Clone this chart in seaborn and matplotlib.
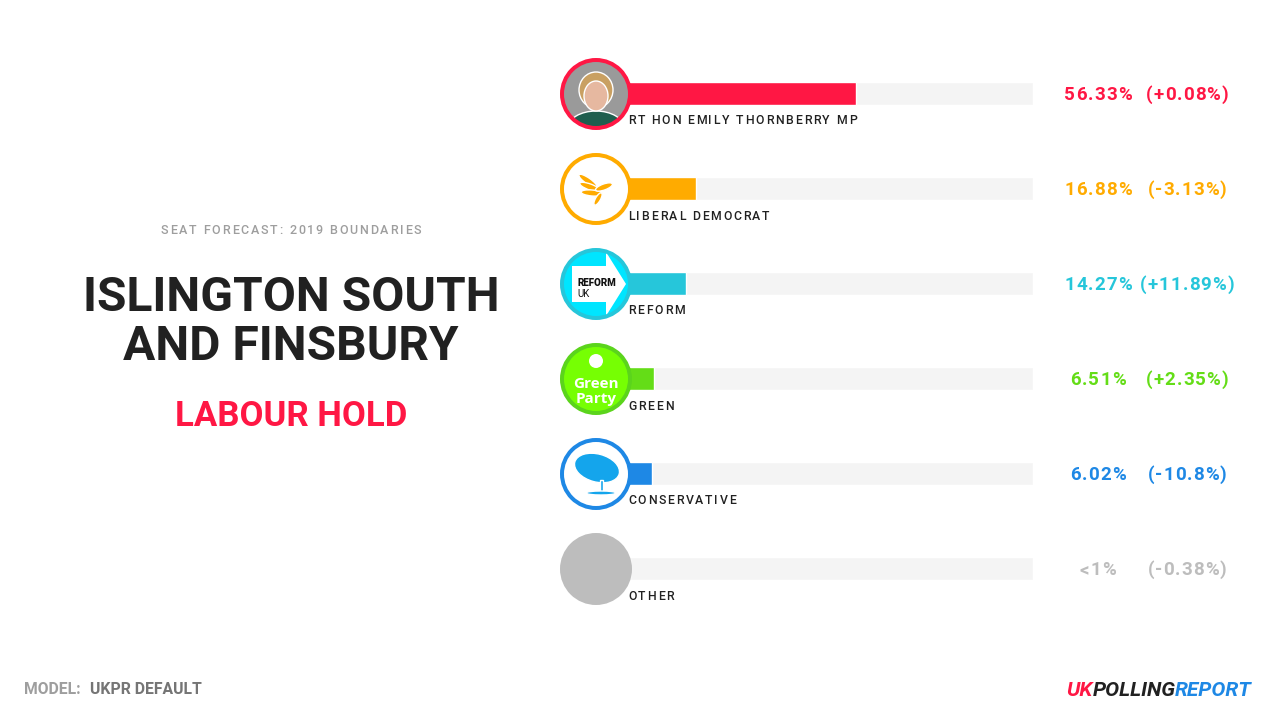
import numpy as np
import pandas as pd
import matplotlib
matplotlib.use('Agg')
import matplotlib.pyplot as plt
import seaborn as sns
from matplotlib.patches import Circle, Ellipse, Polygon, Rectangle
from matplotlib.font_manager import FontProperties
from matplotlib.textpath import TextToPath

# data
parties = ['Labour', 'Liberal Democrat', 'Reform', 'Green', 'Conservative', 'Other']
labels = ['RT HON EMILY THORNBERRY MP', 'LIBERAL DEMOCRAT', 'REFORM', 'GREEN',
          'CONSERVATIVE', 'OTHER']
vote_share = [56.33, 16.88, 14.27, 6.51, 6.02, 0.5]
share_text = ['56.33%', '16.88%', '14.27%', '6.51%', '6.02%', '<1%']
change_text = ['(+0.08%)', '(-3.13%)', '(+11.89%)', '(+2.35%)', '(-10.8%)', '(-0.38%)']
colors = ['#FF1744', '#FFAB00', '#26C6DA', '#64DD17', '#1E88E5', '#BDBDBD']

sns.set_theme(style='white')
plt.rcParams['font.family'] = ['Roboto', 'DejaVu Sans']

DPI = 100
fig = plt.figure(figsize=(12.8, 7.2), dpi=DPI)
fig.patch.set_facecolor('white')

# bar axes: rows 95px apart, first row centred at y=94
row0, step = 93.5, 95
top = row0 - step / 2
bottom = row0 + step * 5 + step / 2
axb = fig.add_axes([628 / 1280, (720 - bottom) / 720, (1033 - 628) / 1280, (bottom - top) / 720])
df = pd.DataFrame({'party': parties, 'share': vote_share, 'track': [100] * len(parties)})
sns.barplot(data=df, x='track', y='party', color='#F4F4F4', width=0.25,
            saturation=1, ax=axb)
sns.barplot(data=df, x='share', y='party', hue='party', palette=colors,
            width=0.25, saturation=1, legend=False, ax=axb)
axb.set_xlim(0, 100)
axb.set_ylim(5.5, -0.5)
axb.axis('off')

# overlay in pixel units
ax = fig.add_axes([0, 0, 1, 1])
ax.set_xlim(0, 1280)
ax.set_ylim(720, 0)
ax.axis('off')
ax.patch.set_alpha(0)

ttp = TextToPath()


def text_w(s, prop):
    return ttp.get_text_width_height_descent(s, prop, ismath=False)[0] * DPI / 72


def spaced(x, y, s, size, spacing, color, weight='bold', ha='left', style='normal'):
    prop = FontProperties(family='Roboto', weight=weight, size=size, style=style)
    widths = [text_w(c, prop) for c in s]
    total = sum(widths) + spacing * (len(s) - 1)
    if ha == 'center':
        x = x - total / 2
    elif ha == 'right':
        x = x - total
    for c, w in zip(s, widths):
        ax.text(x, y, c, fontproperties=prop, color=color, ha='left', va='center')
        x += w + spacing


# left block
spaced(291, 230, 'SEAT FORECAST: 2019 BOUNDARIES', 9, 1.75, '#9E9E9E', weight='medium', ha='center')
ax.text(291, 298, 'ISLINGTON SOUTH', fontsize=34.6, fontweight='bold', color='#212121',
        ha='center', va='center')
ax.text(291, 347, 'AND FINSBURY', fontsize=34.6, fontweight='bold', color='#212121',
        ha='center', va='center')
ax.text(291, 416, 'LABOUR HOLD', fontsize=25, fontweight='bold', color='#FF1744',
        ha='center', va='center')

# rows
cx = 596
for i, (lab, col) in enumerate(zip(labels, colors)):
    cy = row0 + i * step
    spaced(628, cy + 27.5, lab, 8.8, 1.75, '#212121', weight='medium')
    spaced(1098, cy + 1.5, share_text[i], 13.5, 1.0, col, ha='center')
    spaced(1187, cy + 1.5, change_text[i], 13.5, 1.0, col, ha='center')

# party roundels
lw = 4 * 72 / DPI
cy0 = 94
# Labour: portrait placeholder
cy = cy0
inner = Circle((cx, cy), 33, facecolor='#9A9A9A', edgecolor='none', zorder=3)
ax.add_patch(inner)
for p in [Ellipse((cx, cy - 4), 34, 36, facecolor='#C9A062', zorder=4),
          Ellipse((cx, cy + 34), 56, 34, facecolor='#1F5E4E', zorder=4),
          Ellipse((cx, cy + 2), 24, 30, facecolor='#E6B8A0', zorder=5)]:
    ax.add_patch(p)
    p.set_clip_path(inner)
ax.add_patch(Circle((cx, cy), 34, facecolor='none', edgecolor=colors[0], lw=lw, zorder=6))

# Lib Dem
cy = cy0 + step
ax.add_patch(Circle((cx, cy), 34, facecolor='white', edgecolor=colors[1], lw=lw, zorder=3))
for dx, dy, w, h, a in [(-8, -8, 22, 6, 35), (-6, -2, 22, 6, 20), (-4, 4, 22, 6, 5),
                        (8, -2, 18, 6, -20), (2, 10, 14, 5, -60)]:
    ax.add_patch(Ellipse((cx + dx, cy + dy), w, h, angle=a, facecolor='#FFAB00', zorder=4))

# Reform
cy = cy0 + 2 * step
inner = Circle((cx, cy), 33, facecolor='#00E5FF', edgecolor='none', zorder=3)
ax.add_patch(inner)
arrow = Polygon([(572, cy - 18), (606, cy - 18), (606, cy - 32), (626, cy),
                 (606, cy + 32), (606, cy + 18), (572, cy + 18)],
                facecolor='white', edgecolor='none', zorder=4)
ax.add_patch(arrow)
arrow.set_clip_path(inner)
ax.text(577, cy - 1, 'REFORM', fontsize=7, fontweight='black', color='#111111',
        ha='left', va='center', zorder=5)
ax.text(577, cy + 10, 'UK', fontsize=7, color='#111111', ha='left', va='center', zorder=5)
ax.add_patch(Circle((cx, cy), 34, facecolor='none', edgecolor=colors[2], lw=lw, zorder=6))

# Green
cy = cy0 + 3 * step
ax.add_patch(Circle((cx, cy), 34, facecolor='#76FF03', edgecolor='#5BD41C', lw=lw, zorder=3))
ax.add_patch(Circle((cx, cy - 18), 7, facecolor='white', edgecolor='none', zorder=4))
ax.text(cx, cy + 5, 'Green', fontsize=11, fontweight='bold', color='white',
        ha='center', va='center', zorder=5, family='Open Sans')
ax.text(cx, cy + 20, 'Party', fontsize=11, fontweight='bold', color='white',
        ha='center', va='center', zorder=5, family='Open Sans')

# Conservative
cy = cy0 + 4 * step
ax.add_patch(Circle((cx, cy), 34, facecolor='white', edgecolor=colors[4], lw=lw, zorder=3))
ax.add_patch(Ellipse((cx + 1, cy - 6), 46, 28, angle=15, facecolor='#14A5EC', zorder=4))
ax.add_patch(Rectangle((cx + 4, cy + 6), 3, 12, facecolor='#14A5EC', zorder=4))
ax.add_patch(Ellipse((cx + 5, cy + 19), 30, 4, facecolor='#14A5EC', zorder=4))

# Other
cy = cy0 + 5 * step
ax.add_patch(Circle((cx, cy), 36, facecolor=colors[5], edgecolor='none', zorder=3))

# footer
ax.text(24, 689, 'MODEL:', fontsize=11.3, fontweight='bold', color='#9E9E9E', ha='left', va='center')
ax.text(90, 689, 'UKPR DEFAULT', fontsize=11.3, fontweight='bold', color='#757575',
        ha='left', va='center')
logo_prop = FontProperties(family='Roboto', weight='bold', style='italic', size=15)
x = 1252
for part, col in [('REPORT', '#1E88E5'), ('POLLING', '#212121'), ('UK', '#FF1744')]:
    ax.text(x, 690, part, fontproperties=logo_prop, color=col, ha='right', va='center')
    x -= text_w(part, logo_prop)

fig.savefig('out.png', dpi=DPI, facecolor='white')
